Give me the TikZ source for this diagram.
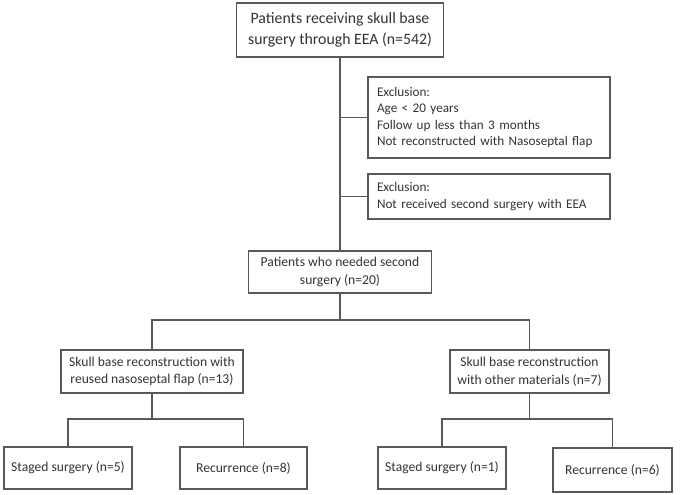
\documentclass[tikz,border=0pt]{standalone}
\usepackage{fontspec}
\setmainfont{Carlito}
\begin{document}
\begin{tikzpicture}[x=1pt,y=-1pt,
  box/.style={draw=lineg,line width=1.5pt,text=txtg,inner sep=0pt,align=center,font=\fontsize{13.6}{17.5}\selectfont},
  conn/.style={draw=lineg,line width=1.5pt}]
\definecolor{lineg}{HTML}{595959}
\definecolor{txtg}{HTML}{333333}
\useasboundingbox (0,0) rectangle (685,495);
\node[box,minimum width=207pt,minimum height=54pt,font=\fontsize{15.8}{20.5}\selectfont] (top) at (340,30) {Patients receiving skull base\\surgery through EEA (n=542)};
\node[box,minimum width=242pt,minimum height=81pt,align=left,text width=224pt,font=\fontsize{13.2}{16.2}\selectfont] (ex1) at (489,117.5) {Exclusion:\\Age < 20 years\\Follow up less than 3 months\\Not reconstructed with Nasoseptal flap};
\node[box,minimum width=242pt,minimum height=45pt,align=left,text width=224pt,font=\fontsize{13.2}{16.2}\selectfont] (ex2) at (489,196.5) {Exclusion:\\Not received second surgery with EEA};
\node[box,minimum width=183pt,minimum height=42pt] (mid) at (340,272) {Patients who needed second\\surgery (n=20)};
\node[box,minimum width=182pt,minimum height=43pt] (L) at (152,371.5) {Skull base reconstruction with\\reused nasoseptal flap (n=13)};
\node[box,minimum width=159pt,minimum height=43pt] (R) at (529.5,371.5) {Skull base reconstruction\\with other materials (n=7)};
\node[box,minimum width=128pt,minimum height=42pt] (LL) at (68,468) {Staged surgery (n=5)};
\node[box,minimum width=127pt,minimum height=42pt] (LR) at (243.5,468) {Recurrence (n=8)};
\node[box,minimum width=128pt,minimum height=42pt] (RL) at (442,468) {Staged surgery (n=1)};
\node[box,minimum width=119pt,minimum height=44pt] (RR) at (612.5,470) {Recurrence (n=6)};
\coordinate (sp) at (340,320);
\coordinate (lsp) at (152,419);
\coordinate (rsp) at (529.5,419);
\draw[conn] (top.south) -- (mid.north);
\draw[conn] (ex1.west) -- (ex1.west -| top.south);
\draw[conn] (ex2.west) -- (ex2.west -| top.south);
\draw[conn] (mid.south) -- (sp);
\draw[conn] (L.north) |- (sp) -| (R.north);
\draw[conn] (L.south) -- (lsp);
\draw[conn] (LL.north) |- (lsp) -| (LR.north);
\draw[conn] (R.south) -- (rsp);
\draw[conn] (RL.north) |- (rsp) -| (RR.north);
\end{tikzpicture}
\end{document}
